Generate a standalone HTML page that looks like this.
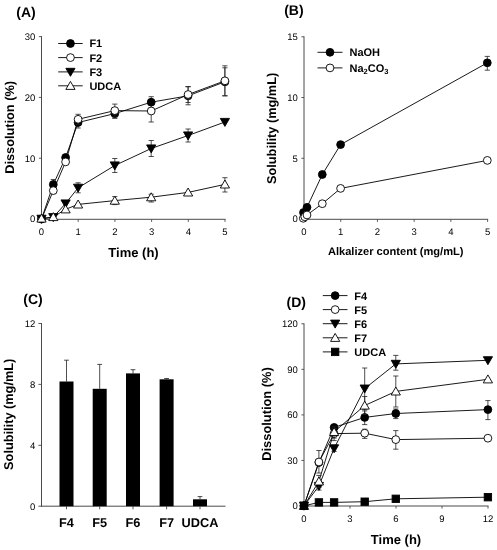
<!DOCTYPE html>
<html lang="en">
<head>
<meta charset="utf-8">
<title>Dissolution and solubility figure</title>
<style>
html,body{margin:0;padding:0;background:#fff;}
body{width:497px;height:550px;overflow:hidden;font-family:"Liberation Sans", Arial, Helvetica, sans-serif;}
svg{display:block;}
</style>
</head>
<body>
<svg width="497" height="550" viewBox="0 0 497 550" font-family='"Liberation Sans", Arial, Helvetica, sans-serif' fill="#000" text-rendering="geometricPrecision">
<rect width="497" height="550" fill="#fff"/>
<text x="26.00" y="17.00" font-size="14" text-anchor="middle" font-weight="bold" >(A)</text>
<line x1="41.50" y1="219.50" x2="41.50" y2="36.10" stroke="#4a4a4a" stroke-width="1.0" />
<line x1="41.00" y1="219.30" x2="225.50" y2="219.30" stroke="#4a4a4a" stroke-width="1.0" />
<line x1="41.50" y1="219.30" x2="41.50" y2="221.90" stroke="#4a4a4a" stroke-width="0.9" />
<text x="41.50" y="234.90" font-size="9.5" text-anchor="middle" >0</text>
<line x1="78.20" y1="219.30" x2="78.20" y2="221.90" stroke="#4a4a4a" stroke-width="0.9" />
<text x="78.20" y="234.90" font-size="9.5" text-anchor="middle" >1</text>
<line x1="114.90" y1="219.30" x2="114.90" y2="221.90" stroke="#4a4a4a" stroke-width="0.9" />
<text x="114.90" y="234.90" font-size="9.5" text-anchor="middle" >2</text>
<line x1="151.60" y1="219.30" x2="151.60" y2="221.90" stroke="#4a4a4a" stroke-width="0.9" />
<text x="151.60" y="234.90" font-size="9.5" text-anchor="middle" >3</text>
<line x1="188.30" y1="219.30" x2="188.30" y2="221.90" stroke="#4a4a4a" stroke-width="0.9" />
<text x="188.30" y="234.90" font-size="9.5" text-anchor="middle" >4</text>
<line x1="225.00" y1="219.30" x2="225.00" y2="221.90" stroke="#4a4a4a" stroke-width="0.9" />
<text x="225.00" y="234.90" font-size="9.5" text-anchor="middle" >5</text>
<line x1="38.90" y1="219.00" x2="41.50" y2="219.00" stroke="#4a4a4a" stroke-width="0.9" />
<text x="35.30" y="222.40" font-size="9.5" text-anchor="end" >0</text>
<line x1="38.90" y1="158.20" x2="41.50" y2="158.20" stroke="#4a4a4a" stroke-width="0.9" />
<text x="35.30" y="161.60" font-size="9.5" text-anchor="end" >10</text>
<line x1="38.90" y1="97.40" x2="41.50" y2="97.40" stroke="#4a4a4a" stroke-width="0.9" />
<text x="35.30" y="100.80" font-size="9.5" text-anchor="end" >20</text>
<line x1="38.90" y1="36.60" x2="41.50" y2="36.60" stroke="#4a4a4a" stroke-width="0.9" />
<text x="35.30" y="40.00" font-size="9.5" text-anchor="end" >30</text>
<text x="133.50" y="257.30" font-size="13" text-anchor="middle" font-weight="bold" >Time (h)</text>
<text x="14.50" y="127.40" font-size="12.75" text-anchor="middle" font-weight="bold" transform="rotate(-90 14.50 127.40)" >Dissolution (%)</text>
<polyline points="41.50,219.00 53.30,184.50 65.60,157.50 78.10,122.50 114.80,113.60 151.20,102.20 188.10,95.80 224.90,81.80" fill="none" stroke="#000" stroke-width="0.9" stroke-linejoin="round"/>
<line x1="53.30" y1="184.50" x2="53.30" y2="179.50" stroke="#222" stroke-width="0.8" />
<line x1="50.70" y1="179.50" x2="55.90" y2="179.50" stroke="#222" stroke-width="0.8" />
<line x1="53.30" y1="184.50" x2="53.30" y2="189.50" stroke="#222" stroke-width="0.8" />
<line x1="50.70" y1="189.50" x2="55.90" y2="189.50" stroke="#222" stroke-width="0.8" />
<line x1="78.10" y1="122.50" x2="78.10" y2="119.50" stroke="#222" stroke-width="0.8" />
<line x1="75.50" y1="119.50" x2="80.70" y2="119.50" stroke="#222" stroke-width="0.8" />
<line x1="78.10" y1="122.50" x2="78.10" y2="128.00" stroke="#222" stroke-width="0.8" />
<line x1="75.50" y1="128.00" x2="80.70" y2="128.00" stroke="#222" stroke-width="0.8" />
<line x1="114.80" y1="113.60" x2="114.80" y2="108.80" stroke="#222" stroke-width="0.8" />
<line x1="112.20" y1="108.80" x2="117.40" y2="108.80" stroke="#222" stroke-width="0.8" />
<line x1="114.80" y1="113.60" x2="114.80" y2="118.40" stroke="#222" stroke-width="0.8" />
<line x1="112.20" y1="118.40" x2="117.40" y2="118.40" stroke="#222" stroke-width="0.8" />
<line x1="151.20" y1="102.20" x2="151.20" y2="96.70" stroke="#222" stroke-width="0.8" />
<line x1="148.60" y1="96.70" x2="153.80" y2="96.70" stroke="#222" stroke-width="0.8" />
<line x1="151.20" y1="102.20" x2="151.20" y2="107.70" stroke="#222" stroke-width="0.8" />
<line x1="148.60" y1="107.70" x2="153.80" y2="107.70" stroke="#222" stroke-width="0.8" />
<line x1="188.10" y1="95.80" x2="188.10" y2="86.80" stroke="#222" stroke-width="0.8" />
<line x1="185.50" y1="86.80" x2="190.70" y2="86.80" stroke="#222" stroke-width="0.8" />
<line x1="188.10" y1="95.80" x2="188.10" y2="104.80" stroke="#222" stroke-width="0.8" />
<line x1="185.50" y1="104.80" x2="190.70" y2="104.80" stroke="#222" stroke-width="0.8" />
<line x1="224.90" y1="81.80" x2="224.90" y2="67.80" stroke="#222" stroke-width="0.8" />
<line x1="222.30" y1="67.80" x2="227.50" y2="67.80" stroke="#222" stroke-width="0.8" />
<line x1="224.90" y1="81.80" x2="224.90" y2="95.80" stroke="#222" stroke-width="0.8" />
<line x1="222.30" y1="95.80" x2="227.50" y2="95.80" stroke="#222" stroke-width="0.8" />
<circle cx="41.50" cy="219.00" r="3.9" fill="#000" stroke="#000" stroke-width="0.9"/>
<circle cx="53.30" cy="184.50" r="3.9" fill="#000" stroke="#000" stroke-width="0.9"/>
<circle cx="65.60" cy="157.50" r="3.9" fill="#000" stroke="#000" stroke-width="0.9"/>
<circle cx="78.10" cy="122.50" r="3.9" fill="#000" stroke="#000" stroke-width="0.9"/>
<circle cx="114.80" cy="113.60" r="3.9" fill="#000" stroke="#000" stroke-width="0.9"/>
<circle cx="151.20" cy="102.20" r="3.9" fill="#000" stroke="#000" stroke-width="0.9"/>
<circle cx="188.10" cy="95.80" r="3.9" fill="#000" stroke="#000" stroke-width="0.9"/>
<circle cx="224.90" cy="81.80" r="3.9" fill="#000" stroke="#000" stroke-width="0.9"/>
<polyline points="41.50,219.00 53.30,190.60 65.60,161.90 78.10,119.30 114.80,110.60 151.20,111.00 188.10,94.50 224.90,80.80" fill="none" stroke="#000" stroke-width="0.9" stroke-linejoin="round"/>
<line x1="53.30" y1="190.60" x2="53.30" y2="187.60" stroke="#222" stroke-width="0.8" />
<line x1="50.70" y1="187.60" x2="55.90" y2="187.60" stroke="#222" stroke-width="0.8" />
<line x1="53.30" y1="190.60" x2="53.30" y2="193.60" stroke="#222" stroke-width="0.8" />
<line x1="50.70" y1="193.60" x2="55.90" y2="193.60" stroke="#222" stroke-width="0.8" />
<line x1="78.10" y1="119.30" x2="78.10" y2="114.30" stroke="#222" stroke-width="0.8" />
<line x1="75.50" y1="114.30" x2="80.70" y2="114.30" stroke="#222" stroke-width="0.8" />
<line x1="78.10" y1="119.30" x2="78.10" y2="124.30" stroke="#222" stroke-width="0.8" />
<line x1="75.50" y1="124.30" x2="80.70" y2="124.30" stroke="#222" stroke-width="0.8" />
<line x1="114.80" y1="110.60" x2="114.80" y2="104.10" stroke="#222" stroke-width="0.8" />
<line x1="112.20" y1="104.10" x2="117.40" y2="104.10" stroke="#222" stroke-width="0.8" />
<line x1="114.80" y1="110.60" x2="114.80" y2="117.10" stroke="#222" stroke-width="0.8" />
<line x1="112.20" y1="117.10" x2="117.40" y2="117.10" stroke="#222" stroke-width="0.8" />
<line x1="151.20" y1="111.00" x2="151.20" y2="122.00" stroke="#222" stroke-width="0.8" />
<line x1="148.60" y1="122.00" x2="153.80" y2="122.00" stroke="#222" stroke-width="0.8" />
<line x1="188.10" y1="94.50" x2="188.10" y2="86.50" stroke="#222" stroke-width="0.8" />
<line x1="185.50" y1="86.50" x2="190.70" y2="86.50" stroke="#222" stroke-width="0.8" />
<line x1="188.10" y1="94.50" x2="188.10" y2="102.50" stroke="#222" stroke-width="0.8" />
<line x1="185.50" y1="102.50" x2="190.70" y2="102.50" stroke="#222" stroke-width="0.8" />
<line x1="224.90" y1="80.80" x2="224.90" y2="65.80" stroke="#222" stroke-width="0.8" />
<line x1="222.30" y1="65.80" x2="227.50" y2="65.80" stroke="#222" stroke-width="0.8" />
<line x1="224.90" y1="80.80" x2="224.90" y2="95.80" stroke="#222" stroke-width="0.8" />
<line x1="222.30" y1="95.80" x2="227.50" y2="95.80" stroke="#222" stroke-width="0.8" />
<circle cx="41.50" cy="219.00" r="3.9" fill="#fff" stroke="#000" stroke-width="0.9"/>
<circle cx="53.30" cy="190.60" r="3.9" fill="#fff" stroke="#000" stroke-width="0.9"/>
<circle cx="65.60" cy="161.90" r="3.9" fill="#fff" stroke="#000" stroke-width="0.9"/>
<circle cx="78.10" cy="119.30" r="3.9" fill="#fff" stroke="#000" stroke-width="0.9"/>
<circle cx="114.80" cy="110.60" r="3.9" fill="#fff" stroke="#000" stroke-width="0.9"/>
<circle cx="151.20" cy="111.00" r="3.9" fill="#fff" stroke="#000" stroke-width="0.9"/>
<circle cx="188.10" cy="94.50" r="3.9" fill="#fff" stroke="#000" stroke-width="0.9"/>
<circle cx="224.90" cy="80.80" r="3.9" fill="#fff" stroke="#000" stroke-width="0.9"/>
<polyline points="41.50,218.80 53.30,217.20 65.60,203.50 78.10,187.80 114.80,165.50 151.20,148.50 188.10,135.50 224.90,122.00" fill="none" stroke="#000" stroke-width="0.9" stroke-linejoin="round"/>
<line x1="78.10" y1="187.80" x2="78.10" y2="182.80" stroke="#222" stroke-width="0.8" />
<line x1="75.50" y1="182.80" x2="80.70" y2="182.80" stroke="#222" stroke-width="0.8" />
<line x1="78.10" y1="187.80" x2="78.10" y2="192.80" stroke="#222" stroke-width="0.8" />
<line x1="75.50" y1="192.80" x2="80.70" y2="192.80" stroke="#222" stroke-width="0.8" />
<line x1="114.80" y1="165.50" x2="114.80" y2="158.50" stroke="#222" stroke-width="0.8" />
<line x1="112.20" y1="158.50" x2="117.40" y2="158.50" stroke="#222" stroke-width="0.8" />
<line x1="114.80" y1="165.50" x2="114.80" y2="172.50" stroke="#222" stroke-width="0.8" />
<line x1="112.20" y1="172.50" x2="117.40" y2="172.50" stroke="#222" stroke-width="0.8" />
<line x1="151.20" y1="148.50" x2="151.20" y2="140.50" stroke="#222" stroke-width="0.8" />
<line x1="148.60" y1="140.50" x2="153.80" y2="140.50" stroke="#222" stroke-width="0.8" />
<line x1="151.20" y1="148.50" x2="151.20" y2="156.50" stroke="#222" stroke-width="0.8" />
<line x1="148.60" y1="156.50" x2="153.80" y2="156.50" stroke="#222" stroke-width="0.8" />
<line x1="188.10" y1="135.50" x2="188.10" y2="129.00" stroke="#222" stroke-width="0.8" />
<line x1="185.50" y1="129.00" x2="190.70" y2="129.00" stroke="#222" stroke-width="0.8" />
<line x1="188.10" y1="135.50" x2="188.10" y2="142.00" stroke="#222" stroke-width="0.8" />
<line x1="185.50" y1="142.00" x2="190.70" y2="142.00" stroke="#222" stroke-width="0.8" />
<polygon points="36.90,215.20 46.10,215.20 41.50,223.20" fill="#000" stroke="#000" stroke-width="0.9" stroke-linejoin="miter"/>
<polygon points="48.70,213.60 57.90,213.60 53.30,221.60" fill="#000" stroke="#000" stroke-width="0.9" stroke-linejoin="miter"/>
<polygon points="61.00,199.90 70.20,199.90 65.60,207.90" fill="#000" stroke="#000" stroke-width="0.9" stroke-linejoin="miter"/>
<polygon points="73.50,184.20 82.70,184.20 78.10,192.20" fill="#000" stroke="#000" stroke-width="0.9" stroke-linejoin="miter"/>
<polygon points="110.20,161.90 119.40,161.90 114.80,169.90" fill="#000" stroke="#000" stroke-width="0.9" stroke-linejoin="miter"/>
<polygon points="146.60,144.90 155.80,144.90 151.20,152.90" fill="#000" stroke="#000" stroke-width="0.9" stroke-linejoin="miter"/>
<polygon points="183.50,131.90 192.70,131.90 188.10,139.90" fill="#000" stroke="#000" stroke-width="0.9" stroke-linejoin="miter"/>
<polygon points="220.30,118.40 229.50,118.40 224.90,126.40" fill="#000" stroke="#000" stroke-width="0.9" stroke-linejoin="miter"/>
<polyline points="41.50,218.50 53.30,217.00 65.60,209.30 78.10,204.40 114.80,200.60 151.20,197.20 188.10,192.40 224.90,184.40" fill="none" stroke="#000" stroke-width="0.9" stroke-linejoin="round"/>
<line x1="114.80" y1="200.60" x2="114.80" y2="196.60" stroke="#222" stroke-width="0.8" />
<line x1="112.20" y1="196.60" x2="117.40" y2="196.60" stroke="#222" stroke-width="0.8" />
<line x1="114.80" y1="200.60" x2="114.80" y2="204.60" stroke="#222" stroke-width="0.8" />
<line x1="112.20" y1="204.60" x2="117.40" y2="204.60" stroke="#222" stroke-width="0.8" />
<line x1="151.20" y1="197.20" x2="151.20" y2="194.20" stroke="#222" stroke-width="0.8" />
<line x1="148.60" y1="194.20" x2="153.80" y2="194.20" stroke="#222" stroke-width="0.8" />
<line x1="151.20" y1="197.20" x2="151.20" y2="202.00" stroke="#222" stroke-width="0.8" />
<line x1="148.60" y1="202.00" x2="153.80" y2="202.00" stroke="#222" stroke-width="0.8" />
<line x1="224.90" y1="184.40" x2="224.90" y2="177.70" stroke="#222" stroke-width="0.8" />
<line x1="222.30" y1="177.70" x2="227.50" y2="177.70" stroke="#222" stroke-width="0.8" />
<line x1="224.90" y1="184.40" x2="224.90" y2="192.00" stroke="#222" stroke-width="0.8" />
<line x1="222.30" y1="192.00" x2="227.50" y2="192.00" stroke="#222" stroke-width="0.8" />
<polygon points="36.90,222.10 46.10,222.10 41.50,214.10" fill="#fff" stroke="#000" stroke-width="0.9" stroke-linejoin="miter"/>
<polygon points="48.70,220.60 57.90,220.60 53.30,212.60" fill="#fff" stroke="#000" stroke-width="0.9" stroke-linejoin="miter"/>
<polygon points="61.00,212.90 70.20,212.90 65.60,204.90" fill="#fff" stroke="#000" stroke-width="0.9" stroke-linejoin="miter"/>
<polygon points="73.50,208.00 82.70,208.00 78.10,200.00" fill="#fff" stroke="#000" stroke-width="0.9" stroke-linejoin="miter"/>
<polygon points="110.20,204.20 119.40,204.20 114.80,196.20" fill="#fff" stroke="#000" stroke-width="0.9" stroke-linejoin="miter"/>
<polygon points="146.60,200.80 155.80,200.80 151.20,192.80" fill="#fff" stroke="#000" stroke-width="0.9" stroke-linejoin="miter"/>
<polygon points="183.50,196.00 192.70,196.00 188.10,188.00" fill="#fff" stroke="#000" stroke-width="0.9" stroke-linejoin="miter"/>
<polygon points="220.30,188.00 229.50,188.00 224.90,180.00" fill="#fff" stroke="#000" stroke-width="0.9" stroke-linejoin="miter"/>
<line x1="58.20" y1="43.50" x2="82.70" y2="43.50" stroke="#000" stroke-width="0.9" />
<circle cx="70.45" cy="43.50" r="3.9" fill="#000" stroke="#000" stroke-width="0.9"/>
<text x="89.40" y="47.40" font-size="11" text-anchor="start" font-weight="bold" >F1</text>
<line x1="58.20" y1="57.60" x2="82.70" y2="57.60" stroke="#000" stroke-width="0.9" />
<circle cx="70.45" cy="57.60" r="3.9" fill="#fff" stroke="#000" stroke-width="0.9"/>
<text x="89.40" y="61.50" font-size="11" text-anchor="start" font-weight="bold" >F2</text>
<line x1="58.20" y1="71.90" x2="82.70" y2="71.90" stroke="#000" stroke-width="0.9" />
<polygon points="65.85,68.30 75.05,68.30 70.45,76.30" fill="#000" stroke="#000" stroke-width="0.9" stroke-linejoin="miter"/>
<text x="89.40" y="75.80" font-size="11" text-anchor="start" font-weight="bold" >F3</text>
<line x1="58.20" y1="85.80" x2="82.70" y2="85.80" stroke="#000" stroke-width="0.9" />
<polygon points="65.85,89.40 75.05,89.40 70.45,81.40" fill="#fff" stroke="#000" stroke-width="0.9" stroke-linejoin="miter"/>
<text x="89.40" y="89.70" font-size="11" text-anchor="start" font-weight="bold" >UDCA</text>
<text x="293.90" y="15.00" font-size="14" text-anchor="middle" font-weight="bold" >(B)</text>
<line x1="304.00" y1="219.50" x2="304.00" y2="36.30" stroke="#4a4a4a" stroke-width="1.0" />
<line x1="303.50" y1="219.30" x2="488.10" y2="219.30" stroke="#4a4a4a" stroke-width="1.0" />
<line x1="304.00" y1="219.30" x2="304.00" y2="221.90" stroke="#4a4a4a" stroke-width="0.9" />
<text x="304.00" y="234.90" font-size="9.5" text-anchor="middle" >0</text>
<line x1="340.72" y1="219.30" x2="340.72" y2="221.90" stroke="#4a4a4a" stroke-width="0.9" />
<text x="340.72" y="234.90" font-size="9.5" text-anchor="middle" >1</text>
<line x1="377.44" y1="219.30" x2="377.44" y2="221.90" stroke="#4a4a4a" stroke-width="0.9" />
<text x="377.44" y="234.90" font-size="9.5" text-anchor="middle" >2</text>
<line x1="414.16" y1="219.30" x2="414.16" y2="221.90" stroke="#4a4a4a" stroke-width="0.9" />
<text x="414.16" y="234.90" font-size="9.5" text-anchor="middle" >3</text>
<line x1="450.88" y1="219.30" x2="450.88" y2="221.90" stroke="#4a4a4a" stroke-width="0.9" />
<text x="450.88" y="234.90" font-size="9.5" text-anchor="middle" >4</text>
<line x1="487.60" y1="219.30" x2="487.60" y2="221.90" stroke="#4a4a4a" stroke-width="0.9" />
<text x="487.60" y="234.90" font-size="9.5" text-anchor="middle" >5</text>
<line x1="301.40" y1="219.00" x2="304.00" y2="219.00" stroke="#4a4a4a" stroke-width="0.9" />
<text x="297.80" y="222.40" font-size="9.5" text-anchor="end" >0</text>
<line x1="301.40" y1="158.27" x2="304.00" y2="158.27" stroke="#4a4a4a" stroke-width="0.9" />
<text x="297.80" y="161.67" font-size="9.5" text-anchor="end" >5</text>
<line x1="301.40" y1="97.53" x2="304.00" y2="97.53" stroke="#4a4a4a" stroke-width="0.9" />
<text x="297.80" y="100.93" font-size="9.5" text-anchor="end" >10</text>
<line x1="301.40" y1="36.80" x2="304.00" y2="36.80" stroke="#4a4a4a" stroke-width="0.9" />
<text x="297.80" y="40.20" font-size="9.5" text-anchor="end" >15</text>
<text x="395.70" y="255.20" font-size="11.1" text-anchor="middle" font-weight="bold" >Alkalizer content (mg/mL)</text>
<text x="276.50" y="128.40" font-size="12.75" text-anchor="middle" font-weight="bold" transform="rotate(-90 276.50 128.40)" >Solubility (mg/mL)</text>
<polyline points="303.50,212.50 307.00,207.30 322.30,174.50 340.60,144.60 487.30,62.80" fill="none" stroke="#000" stroke-width="0.9" stroke-linejoin="round"/>
<line x1="487.30" y1="62.80" x2="487.30" y2="56.40" stroke="#222" stroke-width="0.8" />
<line x1="484.70" y1="56.40" x2="489.90" y2="56.40" stroke="#222" stroke-width="0.8" />
<line x1="487.30" y1="62.80" x2="487.30" y2="70.20" stroke="#222" stroke-width="0.8" />
<line x1="484.70" y1="70.20" x2="489.90" y2="70.20" stroke="#222" stroke-width="0.8" />
<circle cx="303.50" cy="212.50" r="3.9" fill="#000" stroke="#000" stroke-width="0.9"/>
<circle cx="307.00" cy="207.30" r="3.9" fill="#000" stroke="#000" stroke-width="0.9"/>
<circle cx="322.30" cy="174.50" r="3.9" fill="#000" stroke="#000" stroke-width="0.9"/>
<circle cx="340.60" cy="144.60" r="3.9" fill="#000" stroke="#000" stroke-width="0.9"/>
<circle cx="487.30" cy="62.80" r="3.9" fill="#000" stroke="#000" stroke-width="0.9"/>
<polyline points="303.30,218.30 304.80,216.80 307.00,215.00 322.30,203.70 340.60,188.40 487.30,160.40" fill="none" stroke="#000" stroke-width="0.9" stroke-linejoin="round"/>
<circle cx="303.30" cy="218.30" r="3.9" fill="#fff" stroke="#000" stroke-width="0.9"/>
<circle cx="304.80" cy="216.80" r="3.9" fill="#fff" stroke="#000" stroke-width="0.9"/>
<circle cx="307.00" cy="215.00" r="3.9" fill="#fff" stroke="#000" stroke-width="0.9"/>
<circle cx="322.30" cy="203.70" r="3.9" fill="#fff" stroke="#000" stroke-width="0.9"/>
<circle cx="340.60" cy="188.40" r="3.9" fill="#fff" stroke="#000" stroke-width="0.9"/>
<circle cx="487.30" cy="160.40" r="3.9" fill="#fff" stroke="#000" stroke-width="0.9"/>
<line x1="317.50" y1="52.30" x2="342.50" y2="52.30" stroke="#000" stroke-width="0.9" />
<circle cx="330.00" cy="52.30" r="3.9" fill="#000" stroke="#000" stroke-width="0.9"/>
<line x1="317.50" y1="67.90" x2="342.50" y2="67.90" stroke="#000" stroke-width="0.9" />
<circle cx="330.00" cy="67.90" r="3.9" fill="#fff" stroke="#000" stroke-width="0.9"/>
<text x="349.50" y="56.20" font-size="11" text-anchor="start" font-weight="bold" >NaOH</text>
<text x="349.5" y="71.8" font-size="11" font-weight="bold" text-anchor="start">Na<tspan font-size="7.5" dy="1.8">2</tspan><tspan dy="-1.8">CO</tspan><tspan font-size="7.5" dy="1.8">3</tspan></text>
<text x="33.00" y="303.60" font-size="14" text-anchor="middle" font-weight="bold" >(C)</text>
<line x1="41.50" y1="506.70" x2="41.50" y2="323.00" stroke="#4a4a4a" stroke-width="1.0" />
<line x1="41.00" y1="506.20" x2="225.50" y2="506.20" stroke="#4a4a4a" stroke-width="1.0" />
<line x1="38.40" y1="506.20" x2="41.50" y2="506.20" stroke="#4a4a4a" stroke-width="0.9" />
<text x="35.30" y="509.60" font-size="9.5" text-anchor="end" >0</text>
<line x1="38.40" y1="445.30" x2="41.50" y2="445.30" stroke="#4a4a4a" stroke-width="0.9" />
<text x="35.30" y="448.70" font-size="9.5" text-anchor="end" >4</text>
<line x1="38.40" y1="384.40" x2="41.50" y2="384.40" stroke="#4a4a4a" stroke-width="0.9" />
<text x="35.30" y="387.80" font-size="9.5" text-anchor="end" >8</text>
<line x1="38.40" y1="323.50" x2="41.50" y2="323.50" stroke="#4a4a4a" stroke-width="0.9" />
<text x="35.30" y="326.90" font-size="9.5" text-anchor="end" >12</text>
<line x1="66.50" y1="506.20" x2="66.50" y2="509.30" stroke="#4a4a4a" stroke-width="0.9" />
<line x1="66.50" y1="381.50" x2="66.50" y2="360.20" stroke="#222" stroke-width="0.8" />
<line x1="64.10" y1="360.20" x2="68.90" y2="360.20" stroke="#222" stroke-width="0.8" />
<rect x="59.50" y="381.50" width="14" height="124.70" fill="#000"/>
<text x="66.50" y="527.20" font-size="12.75" text-anchor="middle" font-weight="bold" >F4</text>
<line x1="99.70" y1="506.20" x2="99.70" y2="509.30" stroke="#4a4a4a" stroke-width="0.9" />
<line x1="99.70" y1="388.80" x2="99.70" y2="364.40" stroke="#222" stroke-width="0.8" />
<line x1="97.30" y1="364.40" x2="102.10" y2="364.40" stroke="#222" stroke-width="0.8" />
<rect x="92.70" y="388.80" width="14" height="117.40" fill="#000"/>
<text x="99.70" y="527.20" font-size="12.75" text-anchor="middle" font-weight="bold" >F5</text>
<line x1="133.00" y1="506.20" x2="133.00" y2="509.30" stroke="#4a4a4a" stroke-width="0.9" />
<line x1="133.00" y1="373.40" x2="133.00" y2="369.70" stroke="#222" stroke-width="0.8" />
<line x1="130.60" y1="369.70" x2="135.40" y2="369.70" stroke="#222" stroke-width="0.8" />
<rect x="126.00" y="373.40" width="14" height="132.80" fill="#000"/>
<text x="133.00" y="527.20" font-size="12.75" text-anchor="middle" font-weight="bold" >F6</text>
<line x1="166.60" y1="506.20" x2="166.60" y2="509.30" stroke="#4a4a4a" stroke-width="0.9" />
<line x1="166.60" y1="379.30" x2="166.60" y2="378.50" stroke="#222" stroke-width="0.8" />
<line x1="164.20" y1="378.50" x2="169.00" y2="378.50" stroke="#222" stroke-width="0.8" />
<rect x="159.60" y="379.30" width="14" height="126.90" fill="#000"/>
<text x="166.60" y="527.20" font-size="12.75" text-anchor="middle" font-weight="bold" >F7</text>
<line x1="200.00" y1="506.20" x2="200.00" y2="509.30" stroke="#4a4a4a" stroke-width="0.9" />
<line x1="200.00" y1="499.30" x2="200.00" y2="496.60" stroke="#222" stroke-width="0.8" />
<line x1="197.60" y1="496.60" x2="202.40" y2="496.60" stroke="#222" stroke-width="0.8" />
<rect x="193.00" y="499.30" width="14" height="6.90" fill="#000"/>
<text x="200.00" y="527.20" font-size="12.75" text-anchor="middle" font-weight="bold" >UDCA</text>
<text x="13.00" y="414.30" font-size="12.75" text-anchor="middle" font-weight="bold" transform="rotate(-90 13.00 414.30)" >Solubility (mg/mL)</text>
<text x="296.30" y="306.60" font-size="14" text-anchor="middle" font-weight="bold" >(D)</text>
<line x1="304.00" y1="506.50" x2="304.00" y2="323.30" stroke="#4a4a4a" stroke-width="1.0" />
<line x1="303.50" y1="506.00" x2="488.50" y2="506.00" stroke="#4a4a4a" stroke-width="1.0" />
<line x1="304.00" y1="506.00" x2="304.00" y2="508.60" stroke="#4a4a4a" stroke-width="0.9" />
<text x="304.00" y="521.90" font-size="9.5" text-anchor="middle" >0</text>
<line x1="350.00" y1="506.00" x2="350.00" y2="508.60" stroke="#4a4a4a" stroke-width="0.9" />
<text x="350.00" y="521.90" font-size="9.5" text-anchor="middle" >3</text>
<line x1="396.00" y1="506.00" x2="396.00" y2="508.60" stroke="#4a4a4a" stroke-width="0.9" />
<text x="396.00" y="521.90" font-size="9.5" text-anchor="middle" >6</text>
<line x1="442.00" y1="506.00" x2="442.00" y2="508.60" stroke="#4a4a4a" stroke-width="0.9" />
<text x="442.00" y="521.90" font-size="9.5" text-anchor="middle" >9</text>
<line x1="488.00" y1="506.00" x2="488.00" y2="508.60" stroke="#4a4a4a" stroke-width="0.9" />
<text x="488.00" y="521.90" font-size="9.5" text-anchor="middle" >12</text>
<line x1="301.40" y1="506.00" x2="304.00" y2="506.00" stroke="#4a4a4a" stroke-width="0.9" />
<text x="297.80" y="509.40" font-size="9.5" text-anchor="end" >0</text>
<line x1="301.40" y1="460.45" x2="304.00" y2="460.45" stroke="#4a4a4a" stroke-width="0.9" />
<text x="297.80" y="463.85" font-size="9.5" text-anchor="end" >30</text>
<line x1="301.40" y1="414.90" x2="304.00" y2="414.90" stroke="#4a4a4a" stroke-width="0.9" />
<text x="297.80" y="418.30" font-size="9.5" text-anchor="end" >60</text>
<line x1="301.40" y1="369.35" x2="304.00" y2="369.35" stroke="#4a4a4a" stroke-width="0.9" />
<text x="297.80" y="372.75" font-size="9.5" text-anchor="end" >90</text>
<line x1="301.40" y1="323.80" x2="304.00" y2="323.80" stroke="#4a4a4a" stroke-width="0.9" />
<text x="297.80" y="327.20" font-size="9.5" text-anchor="end" >120</text>
<text x="396.00" y="544.00" font-size="13" text-anchor="middle" font-weight="bold" >Time (h)</text>
<text x="271.00" y="414.00" font-size="12.85" text-anchor="middle" font-weight="bold" transform="rotate(-90 271.00 414.00)" >Dissolution (%)</text>
<polyline points="304.00,505.80 318.90,462.50 334.10,427.40 364.70,417.40 395.80,413.50 487.90,409.60" fill="none" stroke="#000" stroke-width="0.9" stroke-linejoin="round"/>
<line x1="334.10" y1="427.40" x2="334.10" y2="425.40" stroke="#222" stroke-width="0.8" />
<line x1="331.50" y1="425.40" x2="336.70" y2="425.40" stroke="#222" stroke-width="0.8" />
<line x1="334.10" y1="427.40" x2="334.10" y2="429.40" stroke="#222" stroke-width="0.8" />
<line x1="331.50" y1="429.40" x2="336.70" y2="429.40" stroke="#222" stroke-width="0.8" />
<line x1="364.70" y1="417.40" x2="364.70" y2="410.90" stroke="#222" stroke-width="0.8" />
<line x1="362.10" y1="410.90" x2="367.30" y2="410.90" stroke="#222" stroke-width="0.8" />
<line x1="364.70" y1="417.40" x2="364.70" y2="424.60" stroke="#222" stroke-width="0.8" />
<line x1="362.10" y1="424.60" x2="367.30" y2="424.60" stroke="#222" stroke-width="0.8" />
<line x1="395.80" y1="413.50" x2="395.80" y2="409.00" stroke="#222" stroke-width="0.8" />
<line x1="393.20" y1="409.00" x2="398.40" y2="409.00" stroke="#222" stroke-width="0.8" />
<line x1="395.80" y1="413.50" x2="395.80" y2="418.60" stroke="#222" stroke-width="0.8" />
<line x1="393.20" y1="418.60" x2="398.40" y2="418.60" stroke="#222" stroke-width="0.8" />
<line x1="487.90" y1="409.60" x2="487.90" y2="400.60" stroke="#222" stroke-width="0.8" />
<line x1="485.30" y1="400.60" x2="490.50" y2="400.60" stroke="#222" stroke-width="0.8" />
<line x1="487.90" y1="409.60" x2="487.90" y2="419.60" stroke="#222" stroke-width="0.8" />
<line x1="485.30" y1="419.60" x2="490.50" y2="419.60" stroke="#222" stroke-width="0.8" />
<circle cx="304.00" cy="505.80" r="3.9" fill="#000" stroke="#000" stroke-width="0.9"/>
<circle cx="318.90" cy="462.50" r="3.9" fill="#000" stroke="#000" stroke-width="0.9"/>
<circle cx="334.10" cy="427.40" r="3.9" fill="#000" stroke="#000" stroke-width="0.9"/>
<circle cx="364.70" cy="417.40" r="3.9" fill="#000" stroke="#000" stroke-width="0.9"/>
<circle cx="395.80" cy="413.50" r="3.9" fill="#000" stroke="#000" stroke-width="0.9"/>
<circle cx="487.90" cy="409.60" r="3.9" fill="#000" stroke="#000" stroke-width="0.9"/>
<polyline points="304.00,505.80 318.90,462.00 334.10,433.60 364.70,433.20 395.80,439.60 487.90,438.20" fill="none" stroke="#000" stroke-width="0.9" stroke-linejoin="round"/>
<line x1="318.90" y1="462.00" x2="318.90" y2="450.50" stroke="#222" stroke-width="0.8" />
<line x1="316.30" y1="450.50" x2="321.50" y2="450.50" stroke="#222" stroke-width="0.8" />
<line x1="318.90" y1="462.00" x2="318.90" y2="473.00" stroke="#222" stroke-width="0.8" />
<line x1="316.30" y1="473.00" x2="321.50" y2="473.00" stroke="#222" stroke-width="0.8" />
<line x1="334.10" y1="433.60" x2="334.10" y2="428.60" stroke="#222" stroke-width="0.8" />
<line x1="331.50" y1="428.60" x2="336.70" y2="428.60" stroke="#222" stroke-width="0.8" />
<line x1="334.10" y1="433.60" x2="334.10" y2="440.60" stroke="#222" stroke-width="0.8" />
<line x1="331.50" y1="440.60" x2="336.70" y2="440.60" stroke="#222" stroke-width="0.8" />
<line x1="364.70" y1="433.20" x2="364.70" y2="429.20" stroke="#222" stroke-width="0.8" />
<line x1="362.10" y1="429.20" x2="367.30" y2="429.20" stroke="#222" stroke-width="0.8" />
<line x1="364.70" y1="433.20" x2="364.70" y2="438.40" stroke="#222" stroke-width="0.8" />
<line x1="362.10" y1="438.40" x2="367.30" y2="438.40" stroke="#222" stroke-width="0.8" />
<line x1="395.80" y1="439.60" x2="395.80" y2="430.60" stroke="#222" stroke-width="0.8" />
<line x1="393.20" y1="430.60" x2="398.40" y2="430.60" stroke="#222" stroke-width="0.8" />
<line x1="395.80" y1="439.60" x2="395.80" y2="449.20" stroke="#222" stroke-width="0.8" />
<line x1="393.20" y1="449.20" x2="398.40" y2="449.20" stroke="#222" stroke-width="0.8" />
<circle cx="304.00" cy="505.80" r="3.9" fill="#fff" stroke="#000" stroke-width="0.9"/>
<circle cx="318.90" cy="462.00" r="3.9" fill="#fff" stroke="#000" stroke-width="0.9"/>
<circle cx="334.10" cy="433.60" r="3.9" fill="#fff" stroke="#000" stroke-width="0.9"/>
<circle cx="364.70" cy="433.20" r="3.9" fill="#fff" stroke="#000" stroke-width="0.9"/>
<circle cx="395.80" cy="439.60" r="3.9" fill="#fff" stroke="#000" stroke-width="0.9"/>
<circle cx="487.90" cy="438.20" r="3.9" fill="#fff" stroke="#000" stroke-width="0.9"/>
<polyline points="304.00,505.80 318.90,486.00 334.10,448.40 364.70,388.60 395.80,363.90 487.90,360.30" fill="none" stroke="#000" stroke-width="0.9" stroke-linejoin="round"/>
<line x1="318.90" y1="486.00" x2="318.90" y2="482.00" stroke="#222" stroke-width="0.8" />
<line x1="316.30" y1="482.00" x2="321.50" y2="482.00" stroke="#222" stroke-width="0.8" />
<line x1="318.90" y1="486.00" x2="318.90" y2="490.00" stroke="#222" stroke-width="0.8" />
<line x1="316.30" y1="490.00" x2="321.50" y2="490.00" stroke="#222" stroke-width="0.8" />
<line x1="334.10" y1="448.40" x2="334.10" y2="445.40" stroke="#222" stroke-width="0.8" />
<line x1="331.50" y1="445.40" x2="336.70" y2="445.40" stroke="#222" stroke-width="0.8" />
<line x1="334.10" y1="448.40" x2="334.10" y2="451.40" stroke="#222" stroke-width="0.8" />
<line x1="331.50" y1="451.40" x2="336.70" y2="451.40" stroke="#222" stroke-width="0.8" />
<line x1="364.70" y1="388.60" x2="364.70" y2="368.00" stroke="#222" stroke-width="0.8" />
<line x1="362.10" y1="368.00" x2="367.30" y2="368.00" stroke="#222" stroke-width="0.8" />
<line x1="364.70" y1="388.60" x2="364.70" y2="409.20" stroke="#222" stroke-width="0.8" />
<line x1="362.10" y1="409.20" x2="367.30" y2="409.20" stroke="#222" stroke-width="0.8" />
<line x1="395.80" y1="363.90" x2="395.80" y2="355.40" stroke="#222" stroke-width="0.8" />
<line x1="393.20" y1="355.40" x2="398.40" y2="355.40" stroke="#222" stroke-width="0.8" />
<line x1="395.80" y1="363.90" x2="395.80" y2="370.20" stroke="#222" stroke-width="0.8" />
<line x1="393.20" y1="370.20" x2="398.40" y2="370.20" stroke="#222" stroke-width="0.8" />
<polygon points="299.40,502.20 308.60,502.20 304.00,510.20" fill="#000" stroke="#000" stroke-width="0.9" stroke-linejoin="miter"/>
<polygon points="314.30,482.40 323.50,482.40 318.90,490.40" fill="#000" stroke="#000" stroke-width="0.9" stroke-linejoin="miter"/>
<polygon points="329.50,444.80 338.70,444.80 334.10,452.80" fill="#000" stroke="#000" stroke-width="0.9" stroke-linejoin="miter"/>
<polygon points="360.10,385.00 369.30,385.00 364.70,393.00" fill="#000" stroke="#000" stroke-width="0.9" stroke-linejoin="miter"/>
<polygon points="391.20,360.30 400.40,360.30 395.80,368.30" fill="#000" stroke="#000" stroke-width="0.9" stroke-linejoin="miter"/>
<polygon points="483.30,356.70 492.50,356.70 487.90,364.70" fill="#000" stroke="#000" stroke-width="0.9" stroke-linejoin="miter"/>
<polyline points="304.00,505.80 318.90,481.40 334.10,431.90 364.70,405.50 395.80,391.40 487.90,379.30" fill="none" stroke="#000" stroke-width="0.9" stroke-linejoin="round"/>
<line x1="318.90" y1="481.40" x2="318.90" y2="475.40" stroke="#222" stroke-width="0.8" />
<line x1="316.30" y1="475.40" x2="321.50" y2="475.40" stroke="#222" stroke-width="0.8" />
<line x1="318.90" y1="481.40" x2="318.90" y2="487.40" stroke="#222" stroke-width="0.8" />
<line x1="316.30" y1="487.40" x2="321.50" y2="487.40" stroke="#222" stroke-width="0.8" />
<line x1="334.10" y1="431.90" x2="334.10" y2="426.90" stroke="#222" stroke-width="0.8" />
<line x1="331.50" y1="426.90" x2="336.70" y2="426.90" stroke="#222" stroke-width="0.8" />
<line x1="334.10" y1="431.90" x2="334.10" y2="438.10" stroke="#222" stroke-width="0.8" />
<line x1="331.50" y1="438.10" x2="336.70" y2="438.10" stroke="#222" stroke-width="0.8" />
<line x1="364.70" y1="405.50" x2="364.70" y2="396.50" stroke="#222" stroke-width="0.8" />
<line x1="362.10" y1="396.50" x2="367.30" y2="396.50" stroke="#222" stroke-width="0.8" />
<line x1="364.70" y1="405.50" x2="364.70" y2="414.50" stroke="#222" stroke-width="0.8" />
<line x1="362.10" y1="414.50" x2="367.30" y2="414.50" stroke="#222" stroke-width="0.8" />
<line x1="395.80" y1="391.40" x2="395.80" y2="376.00" stroke="#222" stroke-width="0.8" />
<line x1="393.20" y1="376.00" x2="398.40" y2="376.00" stroke="#222" stroke-width="0.8" />
<line x1="395.80" y1="391.40" x2="395.80" y2="407.00" stroke="#222" stroke-width="0.8" />
<line x1="393.20" y1="407.00" x2="398.40" y2="407.00" stroke="#222" stroke-width="0.8" />
<polygon points="299.40,509.40 308.60,509.40 304.00,501.40" fill="#fff" stroke="#000" stroke-width="0.9" stroke-linejoin="miter"/>
<polygon points="314.30,485.00 323.50,485.00 318.90,477.00" fill="#fff" stroke="#000" stroke-width="0.9" stroke-linejoin="miter"/>
<polygon points="329.50,435.50 338.70,435.50 334.10,427.50" fill="#fff" stroke="#000" stroke-width="0.9" stroke-linejoin="miter"/>
<polygon points="360.10,409.10 369.30,409.10 364.70,401.10" fill="#fff" stroke="#000" stroke-width="0.9" stroke-linejoin="miter"/>
<polygon points="391.20,395.00 400.40,395.00 395.80,387.00" fill="#fff" stroke="#000" stroke-width="0.9" stroke-linejoin="miter"/>
<polygon points="483.30,382.90 492.50,382.90 487.90,374.90" fill="#fff" stroke="#000" stroke-width="0.9" stroke-linejoin="miter"/>
<polyline points="304.00,505.80 318.90,502.40 334.10,502.40 364.70,501.70 395.80,498.80 487.90,497.20" fill="none" stroke="#000" stroke-width="0.9" stroke-linejoin="round"/>
<rect x="300.30" y="502.10" width="7.4" height="7.4" fill="#000" stroke="#000" stroke-width="0.9"/>
<rect x="315.20" y="498.70" width="7.4" height="7.4" fill="#000" stroke="#000" stroke-width="0.9"/>
<rect x="330.40" y="498.70" width="7.4" height="7.4" fill="#000" stroke="#000" stroke-width="0.9"/>
<rect x="361.00" y="498.00" width="7.4" height="7.4" fill="#000" stroke="#000" stroke-width="0.9"/>
<rect x="392.10" y="495.10" width="7.4" height="7.4" fill="#000" stroke="#000" stroke-width="0.9"/>
<rect x="484.20" y="493.50" width="7.4" height="7.4" fill="#000" stroke="#000" stroke-width="0.9"/>
<line x1="322.80" y1="295.60" x2="347.50" y2="295.60" stroke="#000" stroke-width="0.9" />
<circle cx="335.15" cy="295.60" r="3.9" fill="#000" stroke="#000" stroke-width="0.9"/>
<text x="354.30" y="299.50" font-size="11" text-anchor="start" font-weight="bold" >F4</text>
<line x1="322.80" y1="309.60" x2="347.50" y2="309.60" stroke="#000" stroke-width="0.9" />
<circle cx="335.15" cy="309.60" r="3.9" fill="#fff" stroke="#000" stroke-width="0.9"/>
<text x="354.30" y="313.50" font-size="11" text-anchor="start" font-weight="bold" >F5</text>
<line x1="322.80" y1="323.70" x2="347.50" y2="323.70" stroke="#000" stroke-width="0.9" />
<polygon points="330.55,320.10 339.75,320.10 335.15,328.10" fill="#000" stroke="#000" stroke-width="0.9" stroke-linejoin="miter"/>
<text x="354.30" y="327.60" font-size="11" text-anchor="start" font-weight="bold" >F6</text>
<line x1="322.80" y1="337.80" x2="347.50" y2="337.80" stroke="#000" stroke-width="0.9" />
<polygon points="330.55,341.40 339.75,341.40 335.15,333.40" fill="#fff" stroke="#000" stroke-width="0.9" stroke-linejoin="miter"/>
<text x="354.30" y="341.70" font-size="11" text-anchor="start" font-weight="bold" >F7</text>
<line x1="322.80" y1="351.90" x2="347.50" y2="351.90" stroke="#000" stroke-width="0.9" />
<rect x="331.45" y="348.20" width="7.4" height="7.4" fill="#000" stroke="#000" stroke-width="0.9"/>
<text x="354.30" y="355.80" font-size="11" text-anchor="start" font-weight="bold" >UDCA</text>
</svg>
</body>
</html>
